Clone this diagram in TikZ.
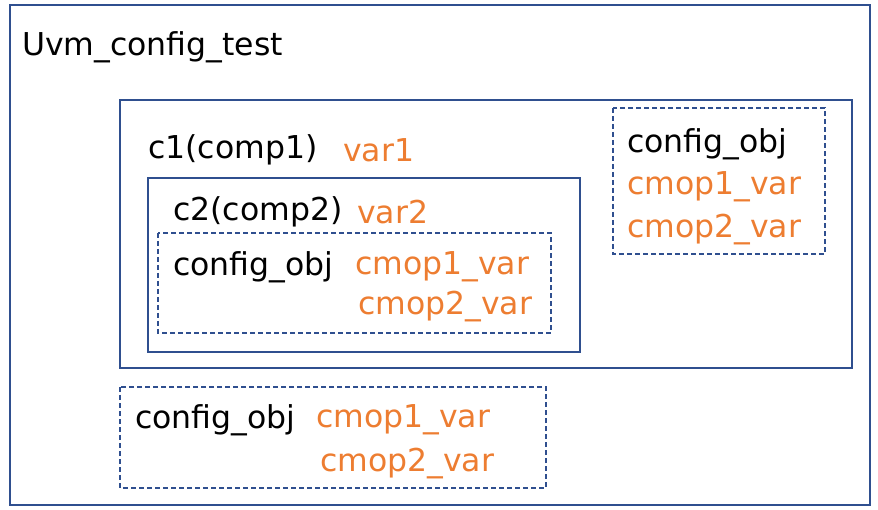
\documentclass[tikz,border=0pt]{standalone}
\usepackage{fontspec}
\setmainfont{DejaVu Sans}
\begin{document}
\begin{tikzpicture}[x=1pt,y=-1pt,
 box/.style={draw=navy,line width=1.3pt},
 dbox/.style={draw=navy,line width=1.1pt,dash pattern=on 5pt off 3pt},
 t/.style={anchor=west,inner sep=0pt,font=\fontsize{31.5}{36}\selectfont},
 o/.style={t,text=orng}]
\definecolor{navy}{HTML}{2F4F8F}
\definecolor{orng}{HTML}{ED7D31}
\useasboundingbox (0,0) rectangle (878,510);
\draw[box] (10,5) rectangle (870,505);
\draw[box] (120,100) rectangle (852,368);
\draw[box] (148,178) rectangle (580,352);
\draw[dbox] (158,233) rectangle (551,333);
\draw[dbox] (613,108) rectangle (825,254);
\draw[dbox] (120,387) rectangle (546,488);
\node[t] (title) at (22,47) {Uvm\_config\_test};
\node[t] (c1) at (148,150) {c1(comp1)};
\node[o] (v1) at (343,150) {var1};
\node[t] (c2) at (173,212) {c2(comp2)};
\node[o] (v2) at (357,212) {var2};
\node[t] (co1) at (173,267) {config\_obj};
\node[o] (a1) at (355,267) {cmop1\_var};
\node[o] (b1) at (358,307) {cmop2\_var};
\node[t] (co2) at (627,144) {config\_obj};
\node[o] (a2) at (627,187) {cmop1\_var};
\node[o] (b2) at (627,230) {cmop2\_var};
\node[t] (co3) at (135,420) {config\_obj};
\node[o] (a3) at (316,420) {cmop1\_var};
\node[o] (b3) at (320,464) {cmop2\_var};
\end{tikzpicture}
\end{document}
